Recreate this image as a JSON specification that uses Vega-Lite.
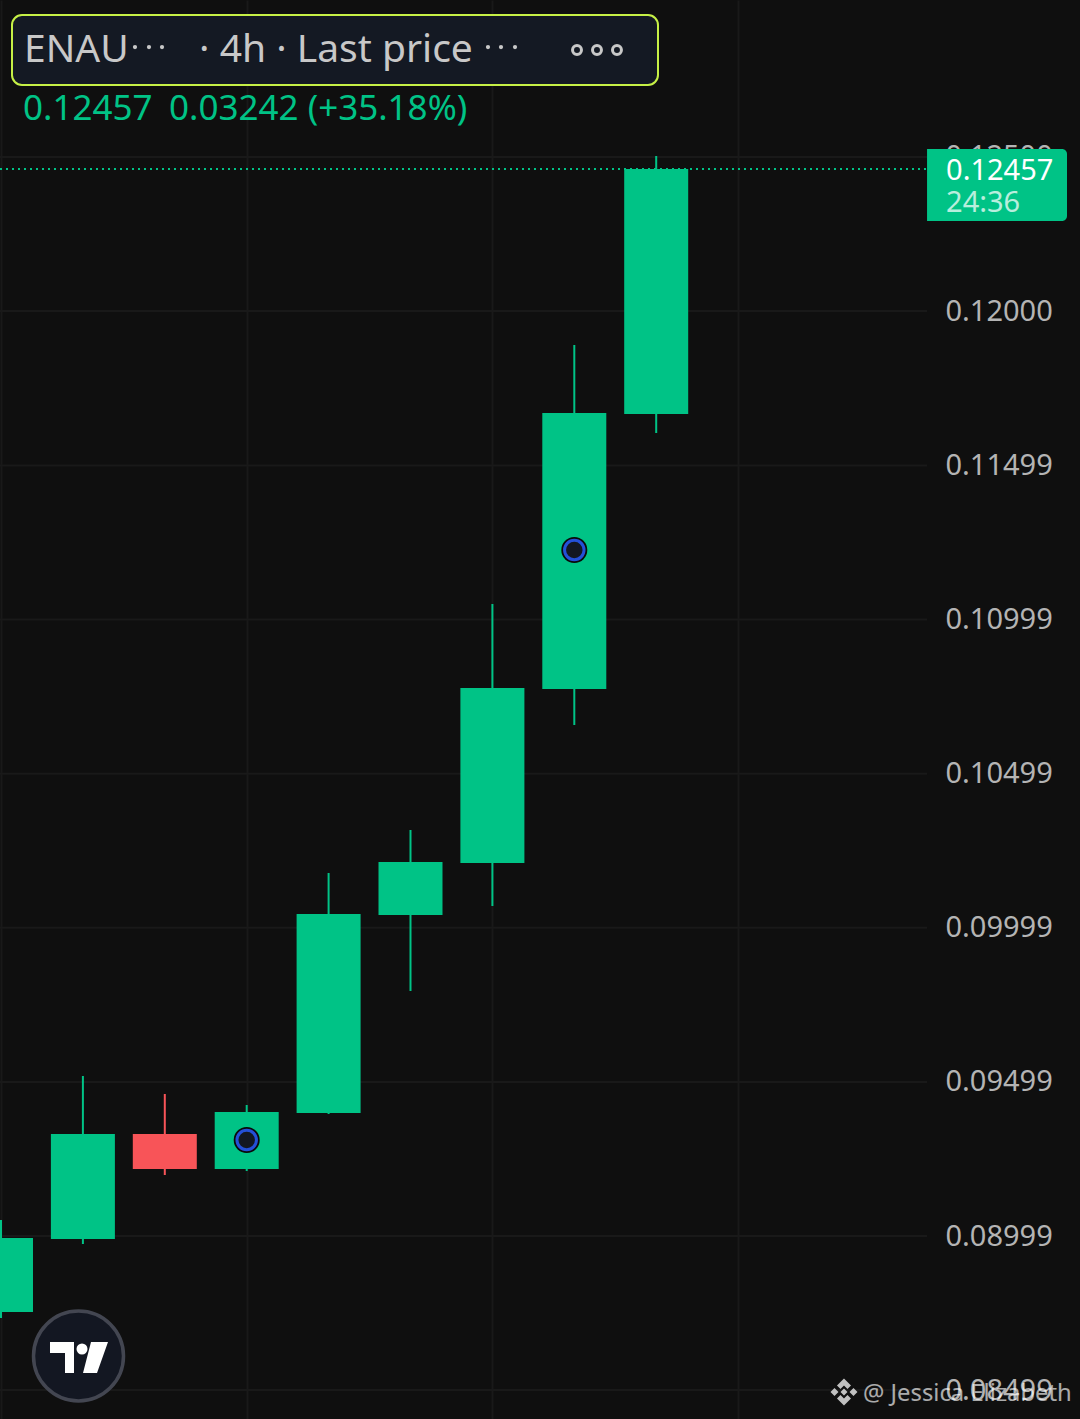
{"$schema":"https://vega.github.io/schema/vega-lite/v6.json","width":1080,"height":1419,"autosize":{"type":"none"},"padding":0,"background":"#0f0f0f","config":{"view":{"stroke":null},"text":{"font":"Noto Sans"}},
"datasets":{
"candles":[{"i":0,"open":0.087524,"high":0.090509,"low":0.08733,"close":0.089925,"dir":"up"},{"i":1,"open":0.089893,"high":0.095181,"low":0.08973,"close":0.093299,"dir":"up"},{"i":2,"open":0.093299,"high":0.094597,"low":0.091969,"close":0.092164,"dir":"down"},{"i":3,"open":0.092164,"high":0.09424,"low":0.092099,"close":0.094013,"dir":"up"},{"i":4,"open":0.093981,"high":0.101767,"low":0.093948,"close":0.100437,"dir":"up"},{"i":5,"open":0.100404,"high":0.103162,"low":0.097939,"close":0.102124,"dir":"up"},{"i":6,"open":0.102091,"high":0.110494,"low":0.100696,"close":0.107769,"dir":"up"},{"i":7,"open":0.107736,"high":0.118897,"low":0.106569,"close":0.116691,"dir":"up"},{"i":8,"open":0.116658,"high":0.125029,"low":0.116042,"close":0.12461,"dir":"up"}],
"levels":[{"p":0.125,"a":-0.0122,"b":11.307},{"p":0.12,"a":-0.0122,"b":11.307},{"p":0.11499,"a":-0.0122,"b":11.307},{"p":0.10999,"a":-0.0122,"b":11.307},{"p":0.10499,"a":-0.0122,"b":11.307},{"p":0.09999,"a":-0.0122,"b":11.307},{"p":0.09499,"a":-0.0122,"b":11.307},{"p":0.08999,"a":-0.0122,"b":11.307},{"p":0.08499,"a":-0.0122,"b":11.307}]
},
"encoding":{"x":{"field":"i","type":"quantitative","scale":{"domain":[-0.0122,13.1746],"nice":false,"zero":false,"padding":0},"axis":{"values":[0,3,6,9],"grid":true,"gridColor":"#191919","gridWidth":2,"labels":false,"ticks":false,"domain":false,"title":null}},"y":{"field":"p","type":"quantitative","scale":{"domain":[0.084053,0.13009],"nice":false,"zero":false,"padding":0},"axis":{"orient":"right","offset":-153,"values":[0.125,0.12,0.11499,0.10999,0.10499,0.09999,0.09499,0.08999,0.08499],"format":".5f","grid":false,"ticks":false,"domain":false,"title":null,"labelPadding":18,"labelAlign":"left","labelFont":"Noto Sans","labelFontSize":29,"labelColor":"#b4b4b4"}}},
"layer":[
{"data":{"name":"levels"},"mark":{"type":"rule","color":"#191919","strokeWidth":2},"encoding":{"x":{"field":"a","type":"quantitative","title":null},"x2":{"field":"b"}}},
{"data":{"values":[{"a":-0.0122,"b":11.307,"p":0.12461}]},"mark":{"type":"rule","color":"#00c386","strokeWidth":2,"strokeDash":[2,4]},"encoding":{"x":{"field":"a","type":"quantitative","title":null},"x2":{"field":"b"}}},
{"data":{"name":"candles"},"mark":{"type":"rule","strokeWidth":2},"encoding":{"y":{"field":"low","type":"quantitative","title":null},"y2":{"field":"high"},"color":{"field":"dir","type":"nominal","scale":{"domain":["up","down"],"range":["#00c386","#f85458"]},"legend":null}}},
{"data":{"name":"candles"},"mark":{"type":"bar","size":64},"encoding":{"y":{"field":"open","type":"quantitative","title":null},"y2":{"field":"close"},"color":{"field":"dir","type":"nominal","scale":{"domain":["up","down"],"range":["#00c386","#f85458"]},"legend":null}}},
{"data":{"values":[{"i":3,"p":0.093104},{"i":7,"p":0.112246}]},"mark":{"type":"point","filled":true,"fill":"#0a0a0a","strokeWidth":0,"size":676,"opacity":1}},
{"data":{"values":[{"i":3,"p":0.093104},{"i":7,"p":0.112246}]},"mark":{"type":"point","filled":true,"fill":"#131722","stroke":"#2450d8","strokeWidth":3,"size":380,"opacity":1}},
{"data":{"values":[{"a":0.1343,"b":8.022,"p":0.129603,"q":0.127332}]},"mark":{"type":"rect","fill":"#141923","stroke":"#c6f046","strokeWidth":2,"cornerRadius":10},"encoding":{"x":{"field":"a","type":"quantitative","title":null},"x2":{"field":"b"},"y2":{"field":"q"}}},
{"data":{"values":[{"i":0.2808,"p":0.128468,"t":"ENAU"},{"i":2.418,"p":0.128468,"t":"· 4h · Last price"}]},"mark":{"type":"text","align":"left","baseline":"middle","fontSize":39,"color":"#c8c8c8"},"encoding":{"text":{"field":"t"}}},
{"data":{"values":[{"i":1.636,"p":0.128565},{"i":1.807,"p":0.128565},{"i":1.966,"p":0.128565},{"i":5.946,"p":0.128565},{"i":6.105,"p":0.128565},{"i":6.276,"p":0.128565}]},"mark":{"type":"point","filled":true,"fill":"#c8c8c8","strokeWidth":0,"size":18,"opacity":1}},
{"data":{"values":[{"i":7.033,"p":0.128468},{"i":7.277,"p":0.128468},{"i":7.521,"p":0.128468}]},"mark":{"type":"point","filled":false,"stroke":"#c8c8c8","strokeWidth":3,"size":80,"opacity":1}},
{"data":{"values":[{"i":0.2686,"p":0.126553,"t":"0.12457"},{"i":2.052,"p":0.126553,"t":"0.03242 (+35.18%)"}]},"mark":{"type":"text","align":"left","baseline":"middle","fontSize":35,"color":"#00c386"},"encoding":{"text":{"field":"t"}}},
{"data":{"values":[{"a":11.307,"b":13.016,"p":0.125256,"q":0.12292}]},"mark":{"type":"rect","fill":"#00c386","cornerRadiusTopRight":5,"cornerRadiusBottomRight":5},"encoding":{"x":{"field":"a","type":"quantitative","title":null},"x2":{"field":"b"},"y2":{"field":"q"}}},
{"data":{"values":[{"i":11.539,"p":0.12453,"t":"0.12457","o":1},{"i":11.539,"p":0.12349,"t":"24:36","o":0.72}]},"mark":{"type":"text","align":"left","baseline":"middle","fontSize":29,"color":"#ffffff"},"encoding":{"text":{"field":"t"},"opacity":{"field":"o","type":"quantitative","scale":null}}},
{"data":{"values":[{"i":0.9463,"p":0.086096}]},"mark":{"type":"point","filled":true,"fill":"#131722","stroke":"#434651","strokeWidth":3.5,"size":8100,"opacity":1}},
{"data":{"values":[{"i":0.9463,"p":0.086048}]},"mark":{"type":"point","filled":true,"color":"#ffffff","opacity":1,"size":1600,"shape":"M-1.425,-0.775L-0.225,-0.775L-0.225,0.775L-0.675,0.775L-0.675,-0.225L-1.425,-0.225ZM0.625,-0.775L1.475,-0.775L0.925,0.775L0.225,0.775Z"}},
{"data":{"values":[{"i":0.989,"p":0.086324}]},"mark":{"type":"point","filled":true,"shape":"circle","color":"#ffffff","opacity":1,"size":121}},
{"data":{"values":[{"i":10.293,"p":0.084929}]},"mark":{"type":"point","filled":true,"color":"#c0c0c0","opacity":1,"size":400,"shape":"M0,-1.35L0.7,-0.65L0.35,-0.3L0,-0.65L-0.35,-0.3L-0.7,-0.65ZM0,1.35L0.7,0.65L0.35,0.3L0,0.65L-0.35,0.3L-0.7,0.65ZM-1.35,0L-0.95,-0.4L-0.55,0L-0.95,0.4ZM1.35,0L0.95,-0.4L0.55,0L0.95,0.4ZM0,-0.35L0.35,0L0,0.35L-0.35,0Z"}},
{"data":{"values":[{"i":10.525,"p":0.084848,"t":"@ Jessica Elizabeth"}]},"mark":{"type":"text","align":"left","baseline":"middle","fontSize":23.8,"color":"#ffffff","opacity":0.65},"encoding":{"text":{"field":"t"}}}
]}
